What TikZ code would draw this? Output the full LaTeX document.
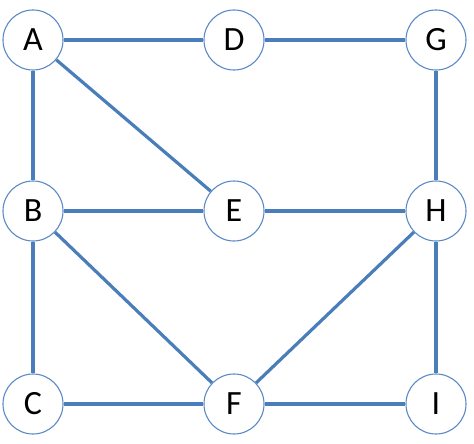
\documentclass[tikz,border=0pt]{standalone}
\usepackage{fontspec}
\setmainfont{Carlito}
\definecolor{grBlue}{HTML}{4A7EBB}
\definecolor{grRing}{HTML}{5B8AC6}

\begin{document}
\begin{tikzpicture}[x=1pt,y=-1pt,
      vtx/.style={circle,draw=grRing,line width=1.1pt,fill=white,minimum size=60pt,inner sep=0pt,font=\fontsize{34}{40}\selectfont},
      link/.style={draw=grBlue,line width=3.2pt}]
      \useasboundingbox (0,0) rectangle (474,444);
      \node[vtx] (a) at (33,40) {A};
      \node[vtx] (d) at (234,40) {D};
      \node[vtx] (g) at (436,40) {G};
      \node[vtx] (b) at (33,211) {B};
      \node[vtx] (e) at (234,211) {E};
      \node[vtx] (h) at (436,211) {H};
      \node[vtx] (c) at (33,404) {C};
      \node[vtx] (f) at (234,404) {F};
      \node[vtx] (i) at (436,404) {I};
      \foreach \u/\v in {a/d,d/g,a/b,a/e,g/h,b/e,e/h,b/c,b/f,h/f,h/i,c/f,f/i}
        \draw[link] (\u) -- (\v);
    \end{tikzpicture}
\end{document}
